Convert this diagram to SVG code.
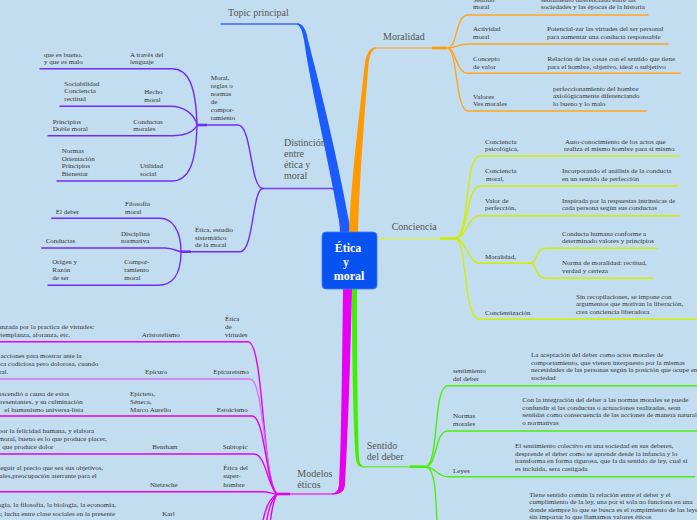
<svg xmlns="http://www.w3.org/2000/svg" width="697" height="520" viewBox="0 0 697 520">
<style>
text{font-family:"Liberation Serif","Times New Roman",serif}
.s{font-size:7px;fill:#333}
.m{font-size:10px;fill:#555}
.ln{fill:none;stroke-width:1.4;stroke-linecap:round}
.tk{fill:none;stroke-width:2.6}
.or{stroke:#ffa61f}.yg{stroke:#cfee00}.gr{stroke:#4cee10}.mg{stroke:#e400f0}.pu{stroke:#6f2cf5}
.e{text-anchor:end}
</style>
<rect width="697" height="520" fill="#c3ddf0"/>
<g id="connectors">
<!-- purple trunk -->
<path d="M331,187.8 C338,187.8 339,200 340,232 L347,232 C344,205 340,189.2 331,189.2 Z" fill="#6f2cf5"/>
<path class="ln" d="M263,188.5 H332" stroke="#7a3cf8"/>
<!-- blue trunk -->
<path d="M297,24.8 Q301,24.8 304,40 C311,90 329,160 341,232 L351,232 C338,160 321,90 308,40 Q305,23.3 297,23.3 Z" fill="#1c5cff"/>
<path class="ln" d="M221,24 H298" stroke="#3a6cff"/>
<!-- orange trunk -->
<path d="M376,47.3 Q368,47.3 365,62 C360,110 352,170 349,232 L358,232 C360,170 365,110 368.5,64 Q370.5,48.8 376,48.8 Z" fill="#ff9a00"/>
<path class="ln" d="M375,48 H432" stroke="#f2b55a"/>
<path class="tk" d="M432,48 H447" stroke="#ff9a00"/>
<!-- conciencia -->
<path class="ln" d="M376,239 Q380,238.5 386,238.5 H440" stroke="#d6ee5a"/>
<path class="tk" d="M440,238.5 H455" stroke="#ccee00"/>
<!-- green trunk -->
<path d="M352,289 C352,380 354,440 356,460 Q357,467.4 364,467.4 L364,466 Q359.5,466 359,458 C358,430 357,380 357,289 Z" fill="#44ee00"/>
<path class="ln" d="M362,466.7 H410" stroke="#6aee48"/>
<path class="tk" d="M410,466.7 H425" stroke="#44ee00"/>
<!-- magenta trunk -->
<path d="M343,289 C342,380 341,450 339,485 Q338,493.3 332,493.3 L332,494.7 Q344,494.7 345,485 C347,450 350,380 352,289 Z" fill="#e800f0"/>
<path class="ln" d="M333,494 H290" stroke="#e63cf2"/>
<path class="tk" d="M290,494 H277" stroke="#e800f0"/>

<!-- orange children -->
<path class="ln or" d="M447,48 C458,48 455,15 468,15 H648"/>
<path class="ln or" d="M447,48 C456,48 458,44 468,44 H668"/>
<path class="ln or" d="M447,48 C456,48 456,73.3 468,73.3 H680"/>
<path class="ln or" d="M447,48 C458,48 455,111 468,111 H646"/>
<!-- conciencia children -->
<path class="ln yg" d="M455,238.5 C470,238.5 464,156 480,156 H679"/>
<path class="ln yg" d="M455,238.5 C468,238.5 466,186 480,186 H678"/>
<path class="ln yg" d="M455,238.5 C466,238.5 468,215.7 480,215.7 H679"/>
<path class="ln yg" d="M455,238.5 C466,238.5 468,263.3 480,263.3 H530"/>
<path class="ln yg" d="M530,263.3 C538,263.3 534,248.3 548,248.3 H657"/>
<path class="ln yg" d="M530,263.3 C538,263.3 534,278.3 546,278.3 H653"/>
<path class="ln yg" d="M455,238.5 C468,238.5 462,319.3 480,319.3 H697"/>
<!-- sentido children -->
<path class="ln gr" d="M425,466.7 C440,466.7 432,385.7 448,385.7 H697"/>
<path class="ln gr" d="M425,466.7 C438,466.7 434,431 448,431 H697"/>
<path class="ln gr" d="M425,466.7 C436,466.7 436,476.7 448,476.7 H695"/>
<path class="ln gr" d="M425,466.7 C436,466.7 436,500 437,525"/>
<!-- distincion children -->
<path class="ln pu" d="M263,188.5 C250,188.5 252,125 238,125 H207"/>
<path class="tk pu" d="M207,125 H197"/>
<path class="ln pu" d="M263,188.5 C252,188.5 254,251.7 240,251.7 H191"/>
<path class="tk pu" d="M191,251.7 H181"/>
<path class="ln pu" d="M197,125 C196,85 188,68.7 172,68.7 H40"/>
<path class="ln pu" d="M197,125 C195,115 185,106.3 170,106.3 H60"/>
<path class="ln pu" d="M197,125 C195,130 188,135.7 173,135.7 H48"/>
<path class="ln pu" d="M197,125 C196,165 188,181 172,181 H57"/>
<path class="ln pu" d="M181,251.7 C181,230 172,218.3 160,218.3 H51.7"/>
<path class="ln pu" d="M181,251.7 C178,251.7 173,248 165,248 H41.7"/>
<path class="ln pu" d="M181,251.7 C181,275 172,285.3 158,285.3 H48"/>
<!-- modelos children -->
<path class="ln mg" d="M-2,341.7 H248 C264,341.7 262,480 277,494"/>
<path class="ln" stroke="#d870f4" d="M-2,379 H250 C264,379 264,480 277,494"/>
<path class="ln mg" d="M-2,416 H252 C265,416 266,485 277,494"/>
<path class="ln mg" d="M-2,454 H254 C266,454 268,488 277,494"/>
<path class="ln mg" d="M-2,491.7 H262 C270,491.7 272,494 277,494"/>
<path class="ln mg" d="M277,494 C268,500 265,510 262,525"/>
<path class="ln mg" d="M277,494 C270,502 268,512 266,525"/>
<path class="ln mg" d="M277,494 C272,504 271,514 270,525"/>
</g>

<g id="center">
<rect x="322" y="232" width="55" height="57" rx="4" fill="#0952f2" stroke="#3a78ff" stroke-width="0.8"/>
<text x="348" y="252" text-anchor="middle" font-size="12" font-weight="bold" fill="#fff">Ética</text>
<text x="346" y="266" text-anchor="middle" font-size="12" font-weight="bold" fill="#fff">y</text>
<text x="349" y="280" text-anchor="middle" font-size="12" font-weight="bold" fill="#fff">moral</text>
</g>

<g id="topic"><text class="m" x="228" y="15.5">Topic principal</text></g>

<g id="moralidad"><text class="m" x="383" y="39.5">Moralidad</text></g>
<g id="mor-sentido">
<text class="s" x="473" y="1.5">Sentido</text><text class="s" x="473" y="9.2">moral</text>
<text class="s" x="541" y="1.5">sentimiento diferenciado entre las</text><text class="s" x="541" y="9.2">sociedades y las épocas de la historia</text>
</g>
<g id="mor-actividad">
<text class="s" x="473" y="31">Actividad</text><text class="s" x="473" y="38.6">moral</text>
<text class="s" x="547" y="31">Potencial-zar las virtudes del ser personal</text><text class="s" x="547" y="38.6">para aumentar una conducta responsable</text>
</g>
<g id="mor-concepto">
<text class="s" x="473" y="61">Concepto</text><text class="s" x="473" y="68.6">de valor</text>
<text class="s" x="547.5" y="61">Relación de las cosas con el sentido que tiene</text><text class="s" x="547.5" y="68.6">para el hombre, objetivo, ideal o subjetivo</text>
</g>
<g id="mor-valores">
<text class="s" x="473" y="98.5">Valores</text><text class="s" x="473" y="106">Ves morales</text>
<text class="s" x="553" y="90.5">perfeccionamiento del hombre</text><text class="s" x="553" y="98.3">axiológicamente diferenciando</text><text class="s" x="553" y="106">lo bueno y lo malo</text>
</g>

<g id="conciencia"><text class="m" x="391.7" y="229.5">Conciencia</text></g>
<g id="con-psico">
<text class="s" x="485" y="143.5">Conciencia</text><text class="s" x="485" y="151">psicológica,</text>
<text class="s" x="565" y="143.5">Auto-conocimiento de los actos que</text><text class="s" x="564" y="151">realiza el mismo hombre para sí mismo</text>
</g>
<g id="con-moral">
<text class="s" x="485" y="173">Conciencia</text><text class="s" x="486" y="180.5">moral,</text>
<text class="s" x="562" y="173">Incorporando el análisis de la conducta</text><text class="s" x="562" y="180.5">en un sentido de perfección</text>
</g>
<g id="con-valor">
<text class="s" x="485" y="202.5">Valor de</text><text class="s" x="485" y="210">perfección,</text>
<text class="s" x="562" y="202.5">Inspirada por la respuestas intrínsicas de</text><text class="s" x="562" y="210">cada persona según sus conductas</text>
</g>
<g id="con-moralidad">
<text class="s" x="485" y="258.5">Moralidad,</text>
<text class="s" x="562" y="235.5">Conducta humana conforme a</text><text class="s" x="562" y="243">determinado valores y principios</text>
<text class="s" x="562" y="265">Norma de moralidad: rectitud,</text><text class="s" x="562" y="272.5">verdad y certeza</text>
</g>
<g id="con-concientizacion">
<text class="s" x="485" y="315">Concientización</text>
<text class="s" x="576" y="298.5">Sin recopilaciones, se impone con</text><text class="s" x="576" y="306">argumentos que motivan la liberación,</text><text class="s" x="576" y="313.5">crea conciencia liberadora</text>
</g>

<g id="sentido"><text class="m" x="366.7" y="448.5">Sentido</text><text class="m" x="366.7" y="459.5">del deber</text></g>
<g id="sen-sentimiento">
<text class="s" x="453" y="373">sentimiento</text><text class="s" x="453" y="380.7">del deber</text>
<text class="s" x="531" y="357">La aceptación del deber como actos morales de</text><text class="s" x="531" y="364.5">comportamiento, que vienen interpuesto por la mismas</text><text class="s" x="531" y="372">necesidades de las personas según la posición que ocupe en la</text><text class="s" x="531" y="379.7">sociedad</text>
</g>
<g id="sen-normas">
<text class="s" x="453" y="418">Normas</text><text class="s" x="453" y="425.7">morales</text>
<text class="s" x="522.3" y="402">Con la integración del deber a las normas morales se puede</text><text class="s" x="522.3" y="409.7">confundir si las conductas o actuaciones realizadas, sean</text><text class="s" x="522.3" y="417.3">sentidas como consecuencia de las acciones de manera natural</text><text class="s" x="522.3" y="425">o normativas</text>
</g>
<g id="sen-leyes">
<text class="s" x="453" y="472.5">Leyes</text>
<text class="s" x="515" y="448">El sentimiento colectivo en una sociedad en sus deberes,</text><text class="s" x="515" y="455.7">desprende el deber como se aprende desde la infancia y lo</text><text class="s" x="515" y="463.3">transforma en forma rigurosa, que la da sentido de ley, cual si</text><text class="s" x="515" y="471">es incluida, sera castigada</text>
</g>
<g id="sen-cuarto">
<text class="s" x="529.3" y="496.5">Tiene sentido  común la relación entre el deber y el</text><text class="s" x="529.3" y="504">cumplimiento de la ley, una por si sola no funciona en una</text><text class="s" x="529.3" y="511.7">donde siempre lo que se busca es el rompimiento de las leyes</text><text class="s" x="529.3" y="519.3">sin importar lo que llamamos valores éticos</text>
</g>

<g id="distincion"><text class="m" x="284" y="146">Distinción</text><text class="m" x="284" y="157">entre</text><text class="m" x="284" y="168">ética y</text><text class="m" x="284" y="179">moral</text></g>
<g id="dis-moral">
<text class="s" x="210.7" y="80">Moral,</text><text class="s" x="210.7" y="88">reglas o</text><text class="s" x="210.7" y="96">normas</text><text class="s" x="210.7" y="104">de</text><text class="s" x="210.7" y="112">compor-</text><text class="s" x="210.7" y="120">tamiento</text>
</g>
<g id="dis-lenguaje">
<text class="s" x="130" y="56.5">A través del</text><text class="s" x="130" y="64.3">lenguaje</text>
<text class="s" x="44" y="56.5">que es bueno,</text><text class="s" x="44" y="64.3">y que es malo</text>
</g>
<g id="dis-hecho">
<text class="s" x="144.3" y="94">Hecho</text><text class="s" x="144.3" y="101.7">moral</text>
<text class="s" x="64.3" y="85.5">Sociabilidad</text><text class="s" x="64.3" y="93.3">Conciencia</text><text class="s" x="64.3" y="101">rectitud</text>
</g>
<g id="dis-conductas">
<text class="s" x="133.3" y="123.5">Conductas</text><text class="s" x="133.3" y="131.3">morales</text>
<text class="s" x="52.7" y="123.5">Principios</text><text class="s" x="52.7" y="131.3">Doble moral</text>
</g>
<g id="dis-utilidad">
<text class="s" x="140" y="168.3">Utilidad</text><text class="s" x="140" y="176">social</text>
<text class="s" x="61.7" y="152.5">Normas</text><text class="s" x="61.7" y="160.5">Orientación</text><text class="s" x="61.7" y="168.3">Principios</text><text class="s" x="61.7" y="176">Bienestar</text>
</g>
<g id="dis-etica">
<text class="s" x="195" y="232">Ética, estudio</text><text class="s" x="195" y="239.7">sistemático</text><text class="s" x="195" y="247.3">de la moral</text>
</g>
<g id="dis-filosofia">
<text class="s" x="125" y="205.5">Filosofía</text><text class="s" x="125" y="213.5">moral</text>
<text class="s" x="55.7" y="213.5">El deber</text>
</g>
<g id="dis-disciplina">
<text class="s" x="121" y="235.5">Disciplina</text><text class="s" x="121" y="243.3">normativa</text>
<text class="s" x="45.7" y="243.3">Conductas</text>
</g>
<g id="dis-comportamiento">
<text class="s" x="124.3" y="263.7">Compor-</text><text class="s" x="124.3" y="271.5">tamiento</text><text class="s" x="124.3" y="279.5">moral</text>
<text class="s" x="52.3" y="263.7">Origen y</text><text class="s" x="52.3" y="271.5">Razón</text><text class="s" x="52.3" y="279.5">de ser</text>
</g>

<g id="modelos"><text class="m" x="297.3" y="476.5">Modelos</text><text class="m" x="297.3" y="487.5">éticos</text></g>
<g id="mod-virtudes">
<text class="s" x="225" y="321">Ética</text><text class="s" x="225" y="329">de</text><text class="s" x="225" y="336.5">virtudes</text>
<text class="s" x="141.7" y="336.5">Aristotelismo</text>
<text class="s e" x="94.3" y="328.7">alcanzada por la practica de virtudes:</text><text class="s e" x="70" y="336.5">templanza, aforanza, etc.</text>
</g>
<g id="mod-epicureismo">
<text class="s" x="213.3" y="373.7">Epicureismo</text>
<text class="s" x="145" y="373.7">Epicuro</text>
<text class="s e" x="81.7" y="358">acciones para mostrar ante la</text><text class="s e" x="98.3" y="366">ética codiciosa pero dolorosa, cuando</text><text class="s e" x="8.3" y="373.7">moral.</text>
</g>
<g id="mod-estoicismo">
<text class="s" x="216.7" y="412">Estoicismo</text>
<text class="s" x="130" y="396.3">Epicteto,</text><text class="s" x="130" y="404">Séneca,</text><text class="s" x="130" y="412">Marco Aurelio</text>
<text class="s e" x="69.3" y="396.3">ascendió a causa de estos</text><text class="s e" x="82.7" y="404">representantes, y su culminación</text><text class="s e" x="83.3" y="412">el humanismo universa-lista</text>
</g>
<g id="mod-subtopic">
<text class="s" x="222.7" y="449.3">Subtopic</text>
<text class="s" x="152.3" y="449.3">Bentham</text>
<text class="s e" x="94" y="432.7">por la felicidad humana, y elabora</text><text class="s e" x="106.7" y="441">la moral, bueno es lo que produce placer,</text><text class="s e" x="53.3" y="449.3">que produce dolor</text>
</g>
<g id="mod-superhombre">
<text class="s" x="223.3" y="470.3">Ética del</text><text class="s" x="223.3" y="478">super-</text><text class="s" x="223.3" y="487">hombre</text>
<text class="s" x="150" y="487">Nietzsche</text>
<text class="s e" x="103.3" y="470.3">conseguir al precio que sea sus objetivos,</text><text class="s e" x="96.7" y="478">ideales,preocupación aterrante para el</text>
</g>
<g id="mod-karl">
<text class="s" x="162.3" y="516">Karl</text>
<text class="s e" x="116" y="507">sociología, la filosofía, la biología, la economía,</text><text class="s e" x="115" y="516">historia; lucha entre clase sociales en la presente</text>
</g>
</svg>
